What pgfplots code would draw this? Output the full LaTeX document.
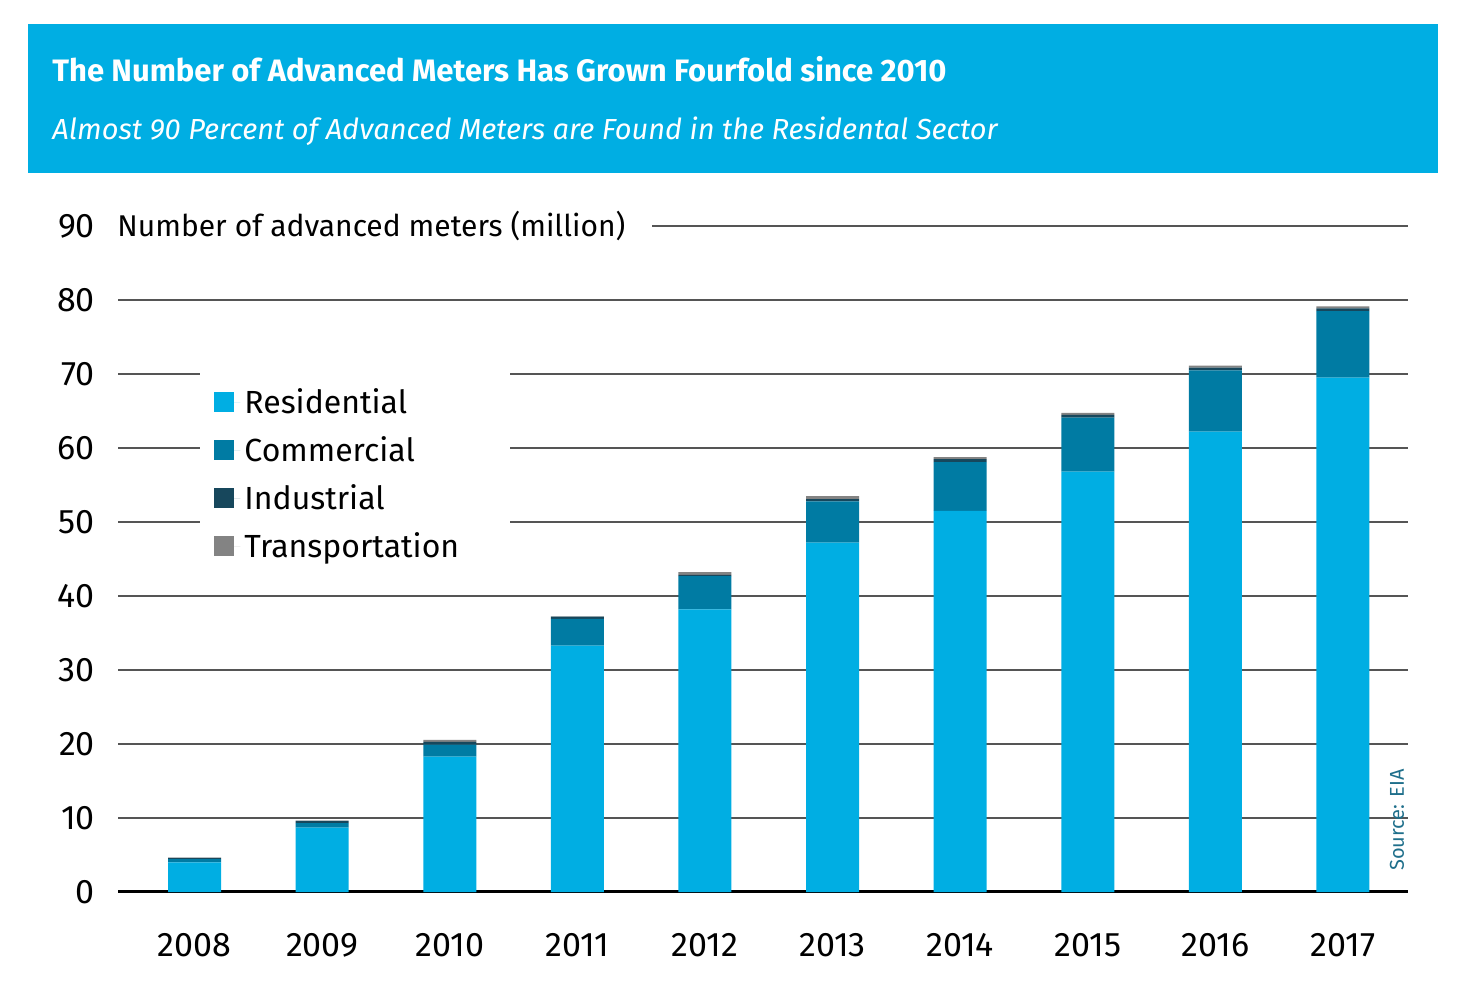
\documentclass[border=0pt]{standalone}
\usepackage{fontspec}
\setmainfont{Fira Sans}
\usepackage{pgfplots}
\pgfplotsset{compat=1.18}
\definecolor{res}{HTML}{00AEE3}
\definecolor{com}{HTML}{007BA3}
\definecolor{ind}{HTML}{17475C}
\definecolor{tra}{HTML}{838383}
\definecolor{gridc}{HTML}{555555}
\definecolor{src}{HTML}{1F6F8B}
\newcommand{\fs}[1]{\fontsize{#1}{#1}\selectfont}
\begin{document}
\begin{tikzpicture}
\path[use as bounding box] (0,0) rectangle (735pt,495pt);
\fill[res] (14pt,408.5pt) rectangle (719pt,483pt);
\node[anchor=base west, inner sep=0pt, text=white, font=\bfseries\fs{15.5}] at (26pt,454pt)
  {The Number of Advanced Meters Has Grown Fourfold since 2010};
\node[anchor=base west, inner sep=0pt, text=white, font=\itshape\fs{14.5}] at (26pt,425pt)
  {Almost 90 Percent of Advanced Meters are Found in the Residental Sector};
\begin{axis}[
  at={(59pt,49pt)}, anchor=south west,
  width=645pt, height=333pt, scale only axis,
  xmin=-0.6, xmax=9.51, ymin=0, ymax=90,
  ybar stacked, bar width=26.5pt,
  axis line style={draw=none}, tick style={draw=none},
  ytick={0,10,...,90},
  xtick=data,
  xticklabels={2008,2009,2010,2011,2012,2013,2014,2015,2016,2017},
  ymajorgrids, grid style={gridc, line width=0.6pt},
  /pgf/number format/assume math mode=true,
  tick label style={font=\fs{17}},
  yticklabel style={xshift=-8pt},
  xticklabel style={yshift=-17pt},
  legend style={at={(0.0636,0.781)}, anchor=north west, draw=none, fill=white,
    font=\fs{16}, row sep=6pt, inner xsep=7pt, inner ysep=6pt},
  legend cell align=left,
  legend image code/.code={\fill[#1] (0pt,-5pt) rectangle (10pt,5pt); \path (0pt,0pt) -- (13pt,0pt);},
]
\addplot[fill=res, draw=none] coordinates {(0,4.0) (1,8.7) (2,18.3) (3,33.3) (4,38.2) (5,47.2) (6,51.5) (7,56.8) (8,62.2) (9,69.5)};
\addplot[fill=com, draw=none] coordinates {(0,0.45) (1,0.6) (2,1.6) (3,3.6) (4,4.5) (5,5.6) (6,6.6) (7,7.3) (8,8.3) (9,9.0)};
\addplot[fill=ind, draw=none] coordinates {(0,0.15) (1,0.3) (2,0.4) (3,0.3) (4,0.15) (5,0.3) (6,0.4) (7,0.36) (8,0.36) (9,0.36)};
\addplot[fill=tra, draw=none] coordinates {(0,0.03) (1,0.05) (2,0.27) (3,0.05) (4,0.36) (5,0.4) (6,0.27) (7,0.27) (8,0.27) (9,0.27)};
\legend{Residential,Commercial,Industrial,\makebox[124pt][l]{Transportation}}
\draw[black, line width=2pt] (axis cs:-0.6,0) -- (axis cs:9.51,0);
\end{axis}
\fill[white] (52pt,378pt) rectangle (326pt,386pt);
\node[anchor=west, inner sep=0pt, font=\fs{15}] at (58.5pt,382pt) {Number of advanced meters (million)};
\node[rotate=90, text=src, font=\fs{10}] at (698.5pt,85pt) {Source: EIA};
\end{tikzpicture}
\end{document}
